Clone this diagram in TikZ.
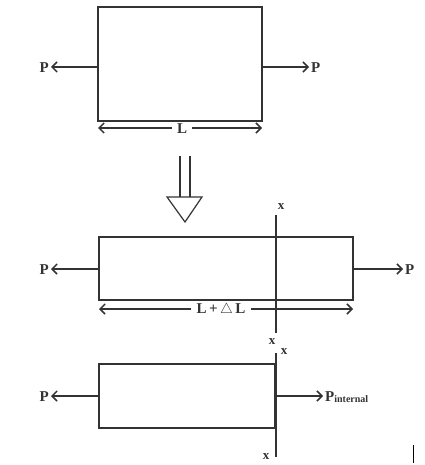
\documentclass[tikz,border=0pt]{standalone}
\usepackage{fontspec}
\setmainfont{Liberation Serif}
\usetikzlibrary{arrows.meta}
\definecolor{ink}{HTML}{333333}
\begin{document}
\begin{tikzpicture}[x=1pt,y=-1pt,
  line/.style={draw=ink,line width=1.5pt},
  force/.style={draw=ink,line width=1.5pt,-{Straight Barb[length=5pt,width=10pt,line width=1.5pt]}},
  tip/.style={draw=ink,line width=1.5pt,-{Straight Barb[length=5pt,width=10pt,line width=1.5pt]}},
  lbl/.style={text=ink,font=\bfseries\fontsize{15}{17}\selectfont,inner sep=2pt},
  small/.style={text=ink,font=\bfseries\fontsize{13}{15}\selectfont,inner sep=1pt}]
\useasboundingbox (0,0) rectangle (424,465);
% ---------- top block ----------
\node[draw=ink,line width=1.5pt,minimum width=164pt,minimum height=114pt,inner sep=0pt] (b1) at (180,64) {};
\coordinate (b1l) at (98,67);
\coordinate (b1r) at (262,67);
\node[lbl,anchor=east] (p1l) at (51,68) {P};
\node[lbl,anchor=west] (p1r) at (309,68) {P};
\draw[force] (b1l) -- (p1l.east |- b1l);
\draw[force] (b1r) -- (p1r.west |- b1r);
\node[lbl,inner xsep=5pt] (L1) at (182,129) {L};
\coordinate (d1l) at (98,128);
\coordinate (d1r) at (262,128);
\draw[tip] (L1.west |- d1l) -- (d1l);
\draw[tip] (L1.east |- d1r) -- (d1r);
% ---------- hollow arrow ----------
\coordinate (ha) at (180,156);
\coordinate (hb) at (190,156);
\coordinate (hc) at (180,197);
\coordinate (hd) at (190,197);
\coordinate (t1) at (167,197);
\coordinate (t2) at (202,197);
\coordinate (t3) at (185,222);
\draw[draw=ink,line width=1.2pt] (ha) -- (hc) (hb) -- (hd);
\draw[draw=ink,line width=1.2pt,line join=miter] (t1) -- (t2) -- (t3) -- cycle;
% ---------- middle block ----------
\node[draw=ink,line width=1.5pt,minimum width=254pt,minimum height=63pt,inner sep=0pt] (b2) at (226,268.5) {};
\coordinate (b2l) at (99,269);
\coordinate (b2r) at (353,269);
\node[lbl,anchor=east] (p2l) at (51,270) {P};
\node[lbl,anchor=west] (p2r) at (403,270) {P};
\draw[force] (b2l) -- (p2l.east |- b2l);
\draw[force] (b2r) -- (p2r.west |- b2r);
\coordinate (d2l) at (99,309);
\coordinate (d2r) at (353,309);
\node[lbl,inner xsep=5pt] (L2) at (221,310) {L\,+\,$\triangle$\,L};
\draw[tip] (L2.west |- d2l) -- (d2l);
\draw[tip] (L2.east |- d2r) -- (d2r);
\coordinate (c2t) at (276,215);
\coordinate (c2b) at (276,333);
\draw[line] (c2t) -- (c2b);
\node[small] (x2t) at (281,207) {x};
\node[small] (x2b) at (272,342) {x};
% ---------- bottom block ----------
\node[draw=ink,line width=1.5pt,minimum width=176pt,minimum height=64pt,inner sep=0pt] (b3) at (187,396) {};
\coordinate (c3t) at (276,353);
\coordinate (c3b) at (276,457);
\draw[line] (c3t) -- (c3b);
\draw[draw=ink,line width=3pt] (b3.north east) -- (b3.south east);
\coordinate (b3l) at (99,396);
\coordinate (b3r) at (276,396);
\node[lbl,anchor=east] (p3l) at (51,397) {P};
\node[lbl,anchor=west] (p3r) at (323,397) {P{\fontsize{10}{11}\selectfont\raisebox{-1pt}{internal}}};
\draw[force] (b3l) -- (p3l.east |- b3l);
\draw[force] (b3r) -- (p3r.west |- b3r);
\node[small] (x3t) at (284,352) {x};
\node[small] (x3b) at (266,457) {x};
\coordinate (m1) at (413,445);
\coordinate (m2) at (413,463);
\draw[draw=black,line width=1pt] (m1) -- (m2);
\end{tikzpicture}
\end{document}
